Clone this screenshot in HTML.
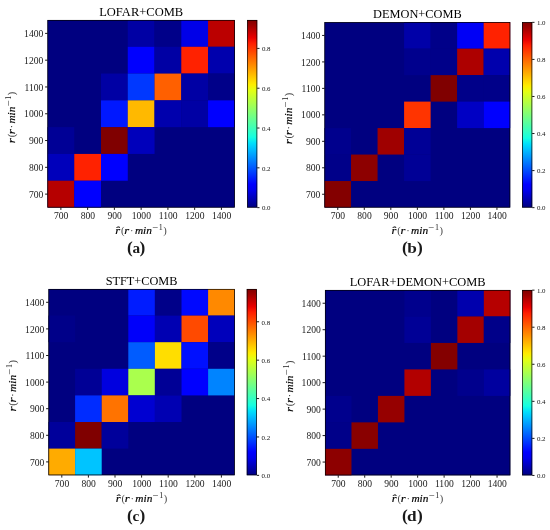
<!DOCTYPE html>
<html><head><meta charset="utf-8"><title>Figure</title>
<style>
html,body{margin:0;padding:0;background:#fff;}
body{width:550px;height:530px;overflow:hidden;}
svg{display:block;}
text{font-family:"Liberation Serif","DejaVu Serif",serif;fill:#222;}
.tk{font-size:9.6px;}
.ct{font-size:6.9px;fill:#111;}
.tt{font-size:11.8px;fill:#000;}
.al{font-size:10.5px;font-style:italic;fill:#000;stroke:#000;stroke-width:0.16px;}
.ap{font-size:10.5px;fill:#444;}
.as{font-size:10.5px;fill:#333;}
.a1{font-size:8px;}
.cap{font-size:15.2px;font-weight:bold;fill:#1a1a1a;}
.cpp{font-size:17.3px;font-weight:bold;fill:#1a1a1a;}
.ax{fill:none;stroke:#000;stroke-width:0.7;}
.tick{stroke:#000;stroke-width:0.9;}
</style></head><body>
<svg width="550" height="530" viewBox="0 0 550 530">
<rect width="550" height="530" fill="#fff"/>
<defs>
<linearGradient id="jet" x1="0" y1="1" x2="0" y2="0">
<stop offset="0.0000" stop-color="#000080"/>
<stop offset="0.0312" stop-color="#0000a4"/>
<stop offset="0.0625" stop-color="#0000c8"/>
<stop offset="0.0938" stop-color="#0000ed"/>
<stop offset="0.1250" stop-color="#0000ff"/>
<stop offset="0.1562" stop-color="#0020ff"/>
<stop offset="0.1875" stop-color="#0040ff"/>
<stop offset="0.2188" stop-color="#0060ff"/>
<stop offset="0.2500" stop-color="#0080ff"/>
<stop offset="0.2812" stop-color="#00a0ff"/>
<stop offset="0.3125" stop-color="#00c0ff"/>
<stop offset="0.3438" stop-color="#00e0fb"/>
<stop offset="0.3750" stop-color="#16ffe1"/>
<stop offset="0.4062" stop-color="#30ffc7"/>
<stop offset="0.4375" stop-color="#49ffad"/>
<stop offset="0.4688" stop-color="#63ff94"/>
<stop offset="0.5000" stop-color="#7dff7a"/>
<stop offset="0.5312" stop-color="#97ff60"/>
<stop offset="0.5625" stop-color="#b1ff46"/>
<stop offset="0.5938" stop-color="#caff2c"/>
<stop offset="0.6250" stop-color="#e4ff13"/>
<stop offset="0.6562" stop-color="#feed00"/>
<stop offset="0.6875" stop-color="#ffd000"/>
<stop offset="0.7188" stop-color="#ffb200"/>
<stop offset="0.7500" stop-color="#ff9400"/>
<stop offset="0.7812" stop-color="#ff7700"/>
<stop offset="0.8125" stop-color="#ff5900"/>
<stop offset="0.8438" stop-color="#ff3b00"/>
<stop offset="0.8750" stop-color="#ff1e00"/>
<stop offset="0.9062" stop-color="#e80000"/>
<stop offset="0.9375" stop-color="#c40000"/>
<stop offset="0.9688" stop-color="#9f0000"/>
<stop offset="1.0000" stop-color="#800000"/>
</linearGradient>
</defs>
<g>
<rect x="47.50" y="20.00" width="187.30" height="187.50" fill="#000080"/>
<rect x="127.77" y="20.00" width="26.76" height="26.79" fill="#0000a4"/>
<rect x="154.53" y="20.00" width="26.76" height="26.79" fill="#000089"/>
<rect x="181.29" y="20.00" width="26.76" height="26.79" fill="#0000e8"/>
<rect x="208.04" y="20.00" width="26.76" height="26.79" fill="#bb0000"/>
<rect x="127.77" y="46.79" width="26.76" height="26.79" fill="#0000ff"/>
<rect x="154.53" y="46.79" width="26.76" height="26.79" fill="#0000a4"/>
<rect x="181.29" y="46.79" width="26.76" height="26.79" fill="#ff2200"/>
<rect x="208.04" y="46.79" width="26.76" height="26.79" fill="#0000ad"/>
<rect x="101.01" y="73.57" width="26.76" height="26.79" fill="#0000a4"/>
<rect x="127.77" y="73.57" width="26.76" height="26.79" fill="#0038ff"/>
<rect x="154.53" y="73.57" width="26.76" height="26.79" fill="#ff6000"/>
<rect x="181.29" y="73.57" width="26.76" height="26.79" fill="#0000a4"/>
<rect x="208.04" y="73.57" width="26.76" height="26.79" fill="#000089"/>
<rect x="101.01" y="100.36" width="26.76" height="26.79" fill="#0018ff"/>
<rect x="127.77" y="100.36" width="26.76" height="26.79" fill="#ffb900"/>
<rect x="154.53" y="100.36" width="26.76" height="26.79" fill="#0000ad"/>
<rect x="181.29" y="100.36" width="26.76" height="26.79" fill="#0000a4"/>
<rect x="208.04" y="100.36" width="26.76" height="26.79" fill="#0000ff"/>
<rect x="47.50" y="127.14" width="26.76" height="26.79" fill="#000096"/>
<rect x="101.01" y="127.14" width="26.76" height="26.79" fill="#800000"/>
<rect x="127.77" y="127.14" width="26.76" height="26.79" fill="#0000bb"/>
<rect x="47.50" y="153.93" width="26.76" height="26.79" fill="#0000bb"/>
<rect x="74.26" y="153.93" width="26.76" height="26.79" fill="#ff2200"/>
<rect x="101.01" y="153.93" width="26.76" height="26.79" fill="#0000ff"/>
<rect x="47.50" y="180.71" width="26.76" height="26.79" fill="#b60000"/>
<rect x="74.26" y="180.71" width="26.76" height="26.79" fill="#0000ff"/>
<rect class="ax" x="47.80" y="20.30" width="186.70" height="186.90"/>
<line class="tick" x1="60.88" y1="207.50" x2="60.88" y2="209.90"/>
<text class="tk" x="61.08" y="219.40" text-anchor="middle">700</text>
<line class="tick" x1="87.64" y1="207.50" x2="87.64" y2="209.90"/>
<text class="tk" x="87.84" y="219.40" text-anchor="middle">800</text>
<line class="tick" x1="114.39" y1="207.50" x2="114.39" y2="209.90"/>
<text class="tk" x="114.59" y="219.40" text-anchor="middle">900</text>
<line class="tick" x1="141.15" y1="207.50" x2="141.15" y2="209.90"/>
<text class="tk" x="141.35" y="219.40" text-anchor="middle">1000</text>
<line class="tick" x1="167.91" y1="207.50" x2="167.91" y2="209.90"/>
<text class="tk" x="168.11" y="219.40" text-anchor="middle">1100</text>
<line class="tick" x1="194.66" y1="207.50" x2="194.66" y2="209.90"/>
<text class="tk" x="194.86" y="219.40" text-anchor="middle">1200</text>
<line class="tick" x1="221.42" y1="207.50" x2="221.42" y2="209.90"/>
<text class="tk" x="221.62" y="219.40" text-anchor="middle">1400</text>
<line class="tick" x1="45.10" y1="33.39" x2="47.50" y2="33.39"/>
<text class="tk" x="43.30" y="36.99" text-anchor="end">1400</text>
<line class="tick" x1="45.10" y1="60.18" x2="47.50" y2="60.18"/>
<text class="tk" x="43.30" y="63.78" text-anchor="end">1200</text>
<line class="tick" x1="45.10" y1="86.96" x2="47.50" y2="86.96"/>
<text class="tk" x="43.30" y="90.56" text-anchor="end">1100</text>
<line class="tick" x1="45.10" y1="113.75" x2="47.50" y2="113.75"/>
<text class="tk" x="43.30" y="117.35" text-anchor="end">1000</text>
<line class="tick" x1="45.10" y1="140.54" x2="47.50" y2="140.54"/>
<text class="tk" x="43.30" y="144.14" text-anchor="end">900</text>
<line class="tick" x1="45.10" y1="167.32" x2="47.50" y2="167.32"/>
<text class="tk" x="43.30" y="170.92" text-anchor="end">800</text>
<line class="tick" x1="45.10" y1="194.11" x2="47.50" y2="194.11"/>
<text class="tk" x="43.30" y="197.71" text-anchor="end">700</text>
<text class="tt" x="99.15" y="16.00" textLength="84.0" lengthAdjust="spacingAndGlyphs">LOFAR+COMB</text>
<g transform="translate(115.50,233.90)"><text class="al" x="-0.2" y="0" textLength="4.9" lengthAdjust="spacingAndGlyphs">r&#x302;</text><text class="ap" x="5.6" y="0">(</text><text class="al" x="8.8" y="0" textLength="4.9" lengthAdjust="spacingAndGlyphs">r</text><text class="ap" x="14.6" y="0">·</text><text class="al" x="19.4" y="0" textLength="17.0" lengthAdjust="spacingAndGlyphs">min</text><text class="as" x="36.9" y="-3.0">−</text><text class="a1" x="43.3" y="-4.1">1</text><text class="ap" x="47.8" y="0">)</text></g>
<g transform="translate(14.90,142.95) rotate(-90)"><text class="al" x="-0.2" y="0" textLength="4.9" lengthAdjust="spacingAndGlyphs">r</text><text class="ap" x="5.6" y="0">(</text><text class="al" x="8.8" y="0" textLength="4.9" lengthAdjust="spacingAndGlyphs">r</text><text class="ap" x="14.6" y="0">·</text><text class="al" x="19.4" y="0" textLength="17.0" lengthAdjust="spacingAndGlyphs">min</text><text class="as" x="36.9" y="-3.0">−</text><text class="a1" x="43.3" y="-4.1">1</text><text class="ap" x="47.8" y="0">)</text></g>
<rect x="247.20" y="20.00" width="10.00" height="187.50" fill="url(#jet)"/>
<rect class="ax" x="247.50" y="20.30" width="9.40" height="186.90"/>
<line class="tick" x1="257.20" y1="207.65" x2="259.50" y2="207.65"/>
<text class="ct" x="261.90" y="210.40">0.0</text>
<line class="tick" x1="257.20" y1="167.84" x2="259.50" y2="167.84"/>
<text class="ct" x="261.90" y="170.59">0.2</text>
<line class="tick" x1="257.20" y1="128.03" x2="259.50" y2="128.03"/>
<text class="ct" x="261.90" y="130.78">0.4</text>
<line class="tick" x1="257.20" y1="88.22" x2="259.50" y2="88.22"/>
<text class="ct" x="261.90" y="90.97">0.6</text>
<line class="tick" x1="257.20" y1="48.41" x2="259.50" y2="48.41"/>
<text class="ct" x="261.90" y="51.16">0.8</text>
<text class="cpp" x="126.90" y="252.80">(</text><text class="cap" x="132.40" y="252.90">a</text><text class="cpp" x="139.50" y="252.80">)</text>
</g>
<g>
<rect x="324.50" y="22.20" width="185.70" height="185.30" fill="#000080"/>
<rect x="404.09" y="22.20" width="26.53" height="26.47" fill="#0000a8"/>
<rect x="430.61" y="22.20" width="26.53" height="26.47" fill="#000089"/>
<rect x="457.14" y="22.20" width="26.53" height="26.47" fill="#0000f6"/>
<rect x="483.67" y="22.20" width="26.53" height="26.47" fill="#ff2200"/>
<rect x="404.09" y="48.67" width="26.53" height="26.47" fill="#00008d"/>
<rect x="430.61" y="48.67" width="26.53" height="26.47" fill="#000089"/>
<rect x="457.14" y="48.67" width="26.53" height="26.47" fill="#ad0000"/>
<rect x="483.67" y="48.67" width="26.53" height="26.47" fill="#0000ad"/>
<rect x="430.61" y="75.14" width="26.53" height="26.47" fill="#800000"/>
<rect x="457.14" y="75.14" width="26.53" height="26.47" fill="#000089"/>
<rect x="483.67" y="75.14" width="26.53" height="26.47" fill="#000089"/>
<rect x="404.09" y="101.61" width="26.53" height="26.47" fill="#ff3400"/>
<rect x="457.14" y="101.61" width="26.53" height="26.47" fill="#0000c4"/>
<rect x="483.67" y="101.61" width="26.53" height="26.47" fill="#0000ff"/>
<rect x="324.50" y="128.09" width="26.53" height="26.47" fill="#00008d"/>
<rect x="377.56" y="128.09" width="26.53" height="26.47" fill="#9f0000"/>
<rect x="404.09" y="128.09" width="26.53" height="26.47" fill="#000096"/>
<rect x="324.50" y="154.56" width="26.53" height="26.47" fill="#000089"/>
<rect x="351.03" y="154.56" width="26.53" height="26.47" fill="#8d0000"/>
<rect x="404.09" y="154.56" width="26.53" height="26.47" fill="#000096"/>
<rect x="324.50" y="181.03" width="26.53" height="26.47" fill="#840000"/>
<rect class="ax" x="324.80" y="22.50" width="185.10" height="184.70"/>
<line class="tick" x1="337.76" y1="207.50" x2="337.76" y2="209.90"/>
<text class="tk" x="337.96" y="219.40" text-anchor="middle">700</text>
<line class="tick" x1="364.29" y1="207.50" x2="364.29" y2="209.90"/>
<text class="tk" x="364.49" y="219.40" text-anchor="middle">800</text>
<line class="tick" x1="390.82" y1="207.50" x2="390.82" y2="209.90"/>
<text class="tk" x="391.02" y="219.40" text-anchor="middle">900</text>
<line class="tick" x1="417.35" y1="207.50" x2="417.35" y2="209.90"/>
<text class="tk" x="417.55" y="219.40" text-anchor="middle">1000</text>
<line class="tick" x1="443.88" y1="207.50" x2="443.88" y2="209.90"/>
<text class="tk" x="444.08" y="219.40" text-anchor="middle">1100</text>
<line class="tick" x1="470.41" y1="207.50" x2="470.41" y2="209.90"/>
<text class="tk" x="470.61" y="219.40" text-anchor="middle">1200</text>
<line class="tick" x1="496.94" y1="207.50" x2="496.94" y2="209.90"/>
<text class="tk" x="497.14" y="219.40" text-anchor="middle">1400</text>
<line class="tick" x1="322.10" y1="35.44" x2="324.50" y2="35.44"/>
<text class="tk" x="320.30" y="39.04" text-anchor="end">1400</text>
<line class="tick" x1="322.10" y1="61.91" x2="324.50" y2="61.91"/>
<text class="tk" x="320.30" y="65.51" text-anchor="end">1200</text>
<line class="tick" x1="322.10" y1="88.38" x2="324.50" y2="88.38"/>
<text class="tk" x="320.30" y="91.98" text-anchor="end">1100</text>
<line class="tick" x1="322.10" y1="114.85" x2="324.50" y2="114.85"/>
<text class="tk" x="320.30" y="118.45" text-anchor="end">1000</text>
<line class="tick" x1="322.10" y1="141.32" x2="324.50" y2="141.32"/>
<text class="tk" x="320.30" y="144.92" text-anchor="end">900</text>
<line class="tick" x1="322.10" y1="167.79" x2="324.50" y2="167.79"/>
<text class="tk" x="320.30" y="171.39" text-anchor="end">800</text>
<line class="tick" x1="322.10" y1="194.26" x2="324.50" y2="194.26"/>
<text class="tk" x="320.30" y="197.86" text-anchor="end">700</text>
<text class="tt" x="373.05" y="18.20" textLength="88.6" lengthAdjust="spacingAndGlyphs">DEMON+COMB</text>
<g transform="translate(391.70,233.90)"><text class="al" x="-0.2" y="0" textLength="4.9" lengthAdjust="spacingAndGlyphs">r&#x302;</text><text class="ap" x="5.6" y="0">(</text><text class="al" x="8.8" y="0" textLength="4.9" lengthAdjust="spacingAndGlyphs">r</text><text class="ap" x="14.6" y="0">·</text><text class="al" x="19.4" y="0" textLength="17.0" lengthAdjust="spacingAndGlyphs">min</text><text class="as" x="36.9" y="-3.0">−</text><text class="a1" x="43.3" y="-4.1">1</text><text class="ap" x="47.8" y="0">)</text></g>
<g transform="translate(292.40,144.05) rotate(-90)"><text class="al" x="-0.2" y="0" textLength="4.9" lengthAdjust="spacingAndGlyphs">r</text><text class="ap" x="5.6" y="0">(</text><text class="al" x="8.8" y="0" textLength="4.9" lengthAdjust="spacingAndGlyphs">r</text><text class="ap" x="14.6" y="0">·</text><text class="al" x="19.4" y="0" textLength="17.0" lengthAdjust="spacingAndGlyphs">min</text><text class="as" x="36.9" y="-3.0">−</text><text class="a1" x="43.3" y="-4.1">1</text><text class="ap" x="47.8" y="0">)</text></g>
<rect x="522.10" y="22.20" width="10.10" height="185.30" fill="url(#jet)"/>
<rect class="ax" x="522.40" y="22.50" width="9.50" height="184.70"/>
<line class="tick" x1="532.20" y1="207.65" x2="534.50" y2="207.65"/>
<text class="ct" x="536.90" y="210.40">0.0</text>
<line class="tick" x1="532.20" y1="170.59" x2="534.50" y2="170.59"/>
<text class="ct" x="536.90" y="173.34">0.2</text>
<line class="tick" x1="532.20" y1="133.53" x2="534.50" y2="133.53"/>
<text class="ct" x="536.90" y="136.28">0.4</text>
<line class="tick" x1="532.20" y1="96.47" x2="534.50" y2="96.47"/>
<text class="ct" x="536.90" y="99.22">0.6</text>
<line class="tick" x1="532.20" y1="59.41" x2="534.50" y2="59.41"/>
<text class="ct" x="536.90" y="62.16">0.8</text>
<line class="tick" x1="532.20" y1="22.35" x2="534.50" y2="22.35"/>
<text class="ct" x="536.90" y="25.10">1.0</text>
<text class="cpp" x="401.90" y="252.80">(</text><text class="cap" x="407.30" y="252.90" textLength="9.6" lengthAdjust="spacingAndGlyphs">b</text><text class="cpp" x="416.90" y="252.80">)</text>
</g>
<g>
<rect x="48.50" y="289.00" width="186.20" height="186.20" fill="#000080"/>
<rect x="128.30" y="289.00" width="26.60" height="26.60" fill="#001cff"/>
<rect x="154.90" y="289.00" width="26.60" height="26.60" fill="#000089"/>
<rect x="181.50" y="289.00" width="26.60" height="26.60" fill="#0008ff"/>
<rect x="208.10" y="289.00" width="26.60" height="26.60" fill="#ff8900"/>
<rect x="48.50" y="315.60" width="26.60" height="26.60" fill="#000089"/>
<rect x="128.30" y="315.60" width="26.60" height="26.60" fill="#0000fa"/>
<rect x="154.90" y="315.60" width="26.60" height="26.60" fill="#0000b2"/>
<rect x="181.50" y="315.60" width="26.60" height="26.60" fill="#ff4a00"/>
<rect x="208.10" y="315.60" width="26.60" height="26.60" fill="#0000bb"/>
<rect x="128.30" y="342.20" width="26.60" height="26.60" fill="#005cff"/>
<rect x="154.90" y="342.20" width="26.60" height="26.60" fill="#ffde00"/>
<rect x="181.50" y="342.20" width="26.60" height="26.60" fill="#0010ff"/>
<rect x="208.10" y="342.20" width="26.60" height="26.60" fill="#000089"/>
<rect x="75.10" y="368.80" width="26.60" height="26.60" fill="#000096"/>
<rect x="101.70" y="368.80" width="26.60" height="26.60" fill="#0000df"/>
<rect x="128.30" y="368.80" width="26.60" height="26.60" fill="#aaff4d"/>
<rect x="154.90" y="368.80" width="26.60" height="26.60" fill="#000096"/>
<rect x="181.50" y="368.80" width="26.60" height="26.60" fill="#0000ff"/>
<rect x="208.10" y="368.80" width="26.60" height="26.60" fill="#0084ff"/>
<rect x="75.10" y="395.40" width="26.60" height="26.60" fill="#002cff"/>
<rect x="101.70" y="395.40" width="26.60" height="26.60" fill="#ff7300"/>
<rect x="128.30" y="395.40" width="26.60" height="26.60" fill="#0000d1"/>
<rect x="154.90" y="395.40" width="26.60" height="26.60" fill="#0000b2"/>
<rect x="48.50" y="422.00" width="26.60" height="26.60" fill="#00009b"/>
<rect x="75.10" y="422.00" width="26.60" height="26.60" fill="#800000"/>
<rect x="101.70" y="422.00" width="26.60" height="26.60" fill="#00009b"/>
<rect x="48.50" y="448.60" width="26.60" height="26.60" fill="#ffab00"/>
<rect x="75.10" y="448.60" width="26.60" height="26.60" fill="#00c4ff"/>
<rect class="ax" x="48.80" y="289.30" width="185.60" height="185.60"/>
<line class="tick" x1="61.80" y1="475.20" x2="61.80" y2="477.60"/>
<text class="tk" x="62.00" y="487.10" text-anchor="middle">700</text>
<line class="tick" x1="88.40" y1="475.20" x2="88.40" y2="477.60"/>
<text class="tk" x="88.60" y="487.10" text-anchor="middle">800</text>
<line class="tick" x1="115.00" y1="475.20" x2="115.00" y2="477.60"/>
<text class="tk" x="115.20" y="487.10" text-anchor="middle">900</text>
<line class="tick" x1="141.60" y1="475.20" x2="141.60" y2="477.60"/>
<text class="tk" x="141.80" y="487.10" text-anchor="middle">1000</text>
<line class="tick" x1="168.20" y1="475.20" x2="168.20" y2="477.60"/>
<text class="tk" x="168.40" y="487.10" text-anchor="middle">1100</text>
<line class="tick" x1="194.80" y1="475.20" x2="194.80" y2="477.60"/>
<text class="tk" x="195.00" y="487.10" text-anchor="middle">1200</text>
<line class="tick" x1="221.40" y1="475.20" x2="221.40" y2="477.60"/>
<text class="tk" x="221.60" y="487.10" text-anchor="middle">1400</text>
<line class="tick" x1="46.10" y1="302.30" x2="48.50" y2="302.30"/>
<text class="tk" x="44.30" y="305.90" text-anchor="end">1400</text>
<line class="tick" x1="46.10" y1="328.90" x2="48.50" y2="328.90"/>
<text class="tk" x="44.30" y="332.50" text-anchor="end">1200</text>
<line class="tick" x1="46.10" y1="355.50" x2="48.50" y2="355.50"/>
<text class="tk" x="44.30" y="359.10" text-anchor="end">1100</text>
<line class="tick" x1="46.10" y1="382.10" x2="48.50" y2="382.10"/>
<text class="tk" x="44.30" y="385.70" text-anchor="end">1000</text>
<line class="tick" x1="46.10" y1="408.70" x2="48.50" y2="408.70"/>
<text class="tk" x="44.30" y="412.30" text-anchor="end">900</text>
<line class="tick" x1="46.10" y1="435.30" x2="48.50" y2="435.30"/>
<text class="tk" x="44.30" y="438.90" text-anchor="end">800</text>
<line class="tick" x1="46.10" y1="461.90" x2="48.50" y2="461.90"/>
<text class="tk" x="44.30" y="465.50" text-anchor="end">700</text>
<text class="tt" x="105.70" y="285.00" textLength="71.8" lengthAdjust="spacingAndGlyphs">STFT+COMB</text>
<g transform="translate(115.95,501.60)"><text class="al" x="-0.2" y="0" textLength="4.9" lengthAdjust="spacingAndGlyphs">r&#x302;</text><text class="ap" x="5.6" y="0">(</text><text class="al" x="8.8" y="0" textLength="4.9" lengthAdjust="spacingAndGlyphs">r</text><text class="ap" x="14.6" y="0">·</text><text class="al" x="19.4" y="0" textLength="17.0" lengthAdjust="spacingAndGlyphs">min</text><text class="as" x="36.9" y="-3.0">−</text><text class="a1" x="43.3" y="-4.1">1</text><text class="ap" x="47.8" y="0">)</text></g>
<g transform="translate(15.90,411.30) rotate(-90)"><text class="al" x="-0.2" y="0" textLength="4.9" lengthAdjust="spacingAndGlyphs">r</text><text class="ap" x="5.6" y="0">(</text><text class="al" x="8.8" y="0" textLength="4.9" lengthAdjust="spacingAndGlyphs">r</text><text class="ap" x="14.6" y="0">·</text><text class="al" x="19.4" y="0" textLength="17.0" lengthAdjust="spacingAndGlyphs">min</text><text class="as" x="36.9" y="-3.0">−</text><text class="a1" x="43.3" y="-4.1">1</text><text class="ap" x="47.8" y="0">)</text></g>
<rect x="246.80" y="289.00" width="10.00" height="186.20" fill="url(#jet)"/>
<rect class="ax" x="247.10" y="289.30" width="9.40" height="185.60"/>
<line class="tick" x1="256.80" y1="475.35" x2="259.10" y2="475.35"/>
<text class="ct" x="261.50" y="478.10">0.0</text>
<line class="tick" x1="256.80" y1="436.96" x2="259.10" y2="436.96"/>
<text class="ct" x="261.50" y="439.71">0.2</text>
<line class="tick" x1="256.80" y1="398.57" x2="259.10" y2="398.57"/>
<text class="ct" x="261.50" y="401.32">0.4</text>
<line class="tick" x1="256.80" y1="360.17" x2="259.10" y2="360.17"/>
<text class="ct" x="261.50" y="362.92">0.6</text>
<line class="tick" x1="256.80" y1="321.78" x2="259.10" y2="321.78"/>
<text class="ct" x="261.50" y="324.53">0.8</text>
<text class="cpp" x="126.90" y="520.50">(</text><text class="cap" x="132.40" y="520.60">c</text><text class="cpp" x="139.50" y="520.50">)</text>
</g>
<g>
<rect x="325.00" y="290.00" width="185.30" height="185.30" fill="#000080"/>
<rect x="404.41" y="290.00" width="26.47" height="26.47" fill="#00008d"/>
<rect x="457.36" y="290.00" width="26.47" height="26.47" fill="#0000ad"/>
<rect x="483.83" y="290.00" width="26.47" height="26.47" fill="#b60000"/>
<rect x="404.41" y="316.47" width="26.47" height="26.47" fill="#000096"/>
<rect x="457.36" y="316.47" width="26.47" height="26.47" fill="#a40000"/>
<rect x="483.83" y="316.47" width="26.47" height="26.47" fill="#000089"/>
<rect x="430.89" y="342.94" width="26.47" height="26.47" fill="#840000"/>
<rect x="404.41" y="369.41" width="26.47" height="26.47" fill="#b20000"/>
<rect x="457.36" y="369.41" width="26.47" height="26.47" fill="#00008d"/>
<rect x="483.83" y="369.41" width="26.47" height="26.47" fill="#00009f"/>
<rect x="325.00" y="395.89" width="26.47" height="26.47" fill="#00008d"/>
<rect x="377.94" y="395.89" width="26.47" height="26.47" fill="#960000"/>
<rect x="325.00" y="422.36" width="26.47" height="26.47" fill="#000089"/>
<rect x="351.47" y="422.36" width="26.47" height="26.47" fill="#890000"/>
<rect x="325.00" y="448.83" width="26.47" height="26.47" fill="#8d0000"/>
<rect class="ax" x="325.30" y="290.30" width="184.70" height="184.70"/>
<line class="tick" x1="338.24" y1="475.30" x2="338.24" y2="477.70"/>
<text class="tk" x="338.44" y="487.20" text-anchor="middle">700</text>
<line class="tick" x1="364.71" y1="475.30" x2="364.71" y2="477.70"/>
<text class="tk" x="364.91" y="487.20" text-anchor="middle">800</text>
<line class="tick" x1="391.18" y1="475.30" x2="391.18" y2="477.70"/>
<text class="tk" x="391.38" y="487.20" text-anchor="middle">900</text>
<line class="tick" x1="417.65" y1="475.30" x2="417.65" y2="477.70"/>
<text class="tk" x="417.85" y="487.20" text-anchor="middle">1000</text>
<line class="tick" x1="444.12" y1="475.30" x2="444.12" y2="477.70"/>
<text class="tk" x="444.32" y="487.20" text-anchor="middle">1100</text>
<line class="tick" x1="470.59" y1="475.30" x2="470.59" y2="477.70"/>
<text class="tk" x="470.79" y="487.20" text-anchor="middle">1200</text>
<line class="tick" x1="497.06" y1="475.30" x2="497.06" y2="477.70"/>
<text class="tk" x="497.26" y="487.20" text-anchor="middle">1400</text>
<line class="tick" x1="322.60" y1="303.24" x2="325.00" y2="303.24"/>
<text class="tk" x="320.80" y="306.84" text-anchor="end">1400</text>
<line class="tick" x1="322.60" y1="329.71" x2="325.00" y2="329.71"/>
<text class="tk" x="320.80" y="333.31" text-anchor="end">1200</text>
<line class="tick" x1="322.60" y1="356.18" x2="325.00" y2="356.18"/>
<text class="tk" x="320.80" y="359.78" text-anchor="end">1100</text>
<line class="tick" x1="322.60" y1="382.65" x2="325.00" y2="382.65"/>
<text class="tk" x="320.80" y="386.25" text-anchor="end">1000</text>
<line class="tick" x1="322.60" y1="409.12" x2="325.00" y2="409.12"/>
<text class="tk" x="320.80" y="412.72" text-anchor="end">900</text>
<line class="tick" x1="322.60" y1="435.59" x2="325.00" y2="435.59"/>
<text class="tk" x="320.80" y="439.19" text-anchor="end">800</text>
<line class="tick" x1="322.60" y1="462.06" x2="325.00" y2="462.06"/>
<text class="tk" x="320.80" y="465.66" text-anchor="end">700</text>
<text class="tt" x="349.70" y="286.00" textLength="135.9" lengthAdjust="spacingAndGlyphs">LOFAR+DEMON+COMB</text>
<g transform="translate(392.00,501.70)"><text class="al" x="-0.2" y="0" textLength="4.9" lengthAdjust="spacingAndGlyphs">r&#x302;</text><text class="ap" x="5.6" y="0">(</text><text class="al" x="8.8" y="0" textLength="4.9" lengthAdjust="spacingAndGlyphs">r</text><text class="ap" x="14.6" y="0">·</text><text class="al" x="19.4" y="0" textLength="17.0" lengthAdjust="spacingAndGlyphs">min</text><text class="as" x="36.9" y="-3.0">−</text><text class="a1" x="43.3" y="-4.1">1</text><text class="ap" x="47.8" y="0">)</text></g>
<g transform="translate(292.90,411.85) rotate(-90)"><text class="al" x="-0.2" y="0" textLength="4.9" lengthAdjust="spacingAndGlyphs">r</text><text class="ap" x="5.6" y="0">(</text><text class="al" x="8.8" y="0" textLength="4.9" lengthAdjust="spacingAndGlyphs">r</text><text class="ap" x="14.6" y="0">·</text><text class="al" x="19.4" y="0" textLength="17.0" lengthAdjust="spacingAndGlyphs">min</text><text class="as" x="36.9" y="-3.0">−</text><text class="a1" x="43.3" y="-4.1">1</text><text class="ap" x="47.8" y="0">)</text></g>
<rect x="522.20" y="290.00" width="10.00" height="185.30" fill="url(#jet)"/>
<rect class="ax" x="522.50" y="290.30" width="9.40" height="184.70"/>
<line class="tick" x1="532.20" y1="475.45" x2="534.50" y2="475.45"/>
<text class="ct" x="536.90" y="478.20">0.0</text>
<line class="tick" x1="532.20" y1="438.39" x2="534.50" y2="438.39"/>
<text class="ct" x="536.90" y="441.14">0.2</text>
<line class="tick" x1="532.20" y1="401.33" x2="534.50" y2="401.33"/>
<text class="ct" x="536.90" y="404.08">0.4</text>
<line class="tick" x1="532.20" y1="364.27" x2="534.50" y2="364.27"/>
<text class="ct" x="536.90" y="367.02">0.6</text>
<line class="tick" x1="532.20" y1="327.21" x2="534.50" y2="327.21"/>
<text class="ct" x="536.90" y="329.96">0.8</text>
<line class="tick" x1="532.20" y1="290.15" x2="534.50" y2="290.15"/>
<text class="ct" x="536.90" y="292.90">1.0</text>
<text class="cpp" x="401.90" y="520.60">(</text><text class="cap" x="406.90" y="520.70" textLength="9.6" lengthAdjust="spacingAndGlyphs">d</text><text class="cpp" x="416.90" y="520.60">)</text>
</g>
</svg></body></html>
